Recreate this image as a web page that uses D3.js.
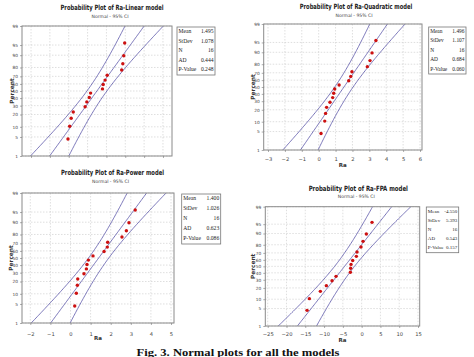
<!DOCTYPE html>
<html>
<head>
<meta charset="utf-8">
<script src="https://cdn.jsdelivr.net/npm/d3@7"></script>
<style>
  html, body { margin: 0; padding: 0; background: #fff; }
  svg { display: block; }
</style>
</head>
<body>
<svg id="chart" width="474" height="357"></svg>
<script>
// ---------------- DATA ----------------
const plotPercents = [4.3, 10.4, 16.5, 22.6, 28.7, 34.8, 40.9, 47.0, 53.0, 59.1, 65.2, 71.3, 77.4, 83.5, 89.6, 95.7];
const yTickValues = [1, 5, 10, 20, 30, 40, 50, 60, 70, 80, 90, 95, 99];

const linearRa    = [-0.04, 0.05, 0.13, 0.24, 0.87, 0.96, 1.09, 1.16, 1.79, 1.83, 1.93, 2.04, 2.81, 2.87, 2.92, 2.97];
const quadraticRa = [0.14, 0.36, 0.41, 0.47, 0.67, 0.83, 0.89, 0.95, 1.21, 1.78, 1.90, 1.97, 2.88, 3.04, 3.16, 3.39];
const powerRa     = [0.21, 0.29, 0.34, 0.36, 0.67, 0.79, 0.82, 0.89, 1.12, 1.67, 1.83, 1.85, 2.56, 2.78, 2.91, 3.22];
const fpaRa       = [-14.53, -13.91, -10.99, -9.39, -7.88, -6.82, -3.00, -2.92, -2.83, -2.38, -1.41, -1.23, -0.17, 0.37, 1.25, 2.76];

const statLabels     = ["Mean", "StDev", "N", "AD", "P-Value"];
const linearStats    = ["1.495", "1.078", "16", "0.444", "0.248"];
const quadraticStats = ["1.496", "1.107", "16", "0.684", "0.060"];
const powerStats     = ["1.400", "1.026", "16", "0.623", "0.086"];
const fpaStats       = ["-4.550", "5.393", "16", "0.543", "0.157"];

const linearXTicks    = [-2, -1, 0, 1, 2, 3, 4, 5];
const quadraticXTicks = [-3, -2, -1, 0, 1, 2, 3, 4, 5, 6];
const powerXTicks     = [-2, -1, 0, 1, 2, 3, 4, 5];
const fpaXTicks       = [-25, -20, -15, -10, -5, 0, 5, 10, 15];

const titles = ["Probability Plot of Ra-Linear model", "Probability Plot of Ra-Quadratic model",
                "Probability Plot of Ra-Power model", "Probability Plot of Ra-FPA model"];
const subtitle = "Normal - 95% CI";
const caption = "Fig. 3. Normal plots for all the models";

// ---------------- HELPERS ----------------
function qnorm(p) {
  const a = [-3.969683028665376e+01, 2.209460984245205e+02, -2.759285104469687e+02, 1.383577518672690e+02, -3.066479806614716e+01, 2.506628277459239e+00];
  const b = [-5.447609879822406e+01, 1.615858368580409e+02, -1.556989798598866e+02, 6.680131188771972e+01, -1.328068155288572e+01];
  const c = [-7.784894002430293e-03, -3.223964580411365e-01, -2.400758277161838e+00, -2.549732539343734e+00, 4.374664141464968e+00, 2.938163982698783e+00];
  const d = [7.784695709041462e-03, 3.224671290700398e-01, 2.445134137142996e+00, 3.754408661907416e+00];
  const pl = 0.02425, ph = 1 - pl;
  let q, r;
  if (p < pl) {
    q = Math.sqrt(-2 * Math.log(p));
    return (((((c[0]*q+c[1])*q+c[2])*q+c[3])*q+c[4])*q+c[5]) / ((((d[0]*q+d[1])*q+d[2])*q+d[3])*q+1);
  } else if (p <= ph) {
    q = p - 0.5; r = q * q;
    return (((((a[0]*r+a[1])*r+a[2])*r+a[3])*r+a[4])*r+a[5])*q / (((((b[0]*r+b[1])*r+b[2])*r+b[3])*r+b[4])*r+1);
  } else {
    q = Math.sqrt(-2 * Math.log(1 - p));
    return -(((((c[0]*q+c[1])*q+c[2])*q+c[3])*q+c[4])*q+c[5]) / ((((d[0]*q+d[1])*q+d[2])*q+d[3])*q+1);
  }
}

// ---------------- PANELS ----------------
const panels = [
  { title: titles[0], ra: linearRa, stats: linearStats, xTicks: linearXTicks, xLabels: false,
    box: [22, 172, 26, 156], xDom: [-2.48, 5.48], titleY: 10, subY: 17.5, titleW: 103, titleX: 112,
    legend: [177, 215, 27, 75], legendFont: 5.6, percentX: 12, tickY: 0, raY: 0 },
  { title: titles[1], ra: quadraticRa, stats: quadraticStats, xTicks: quadraticXTicks, xLabels: true,
    box: [263.7, 422, 24, 150], xDom: [-3.255, 6.118], titleY: 9, subY: 16.5, titleW: 112.5, titleX: 356,
    legend: [428.7, 466, 27, 74], legendFont: 5.4, percentX: 253, tickY: 157.5, raY: 166.5 },
  { title: titles[2], ra: powerRa, stats: powerStats, xTicks: powerXTicks, xLabels: true,
    box: [22, 174, 193, 323], xDom: [-2.413, 5.149], titleY: 175, subY: 183, titleW: 103, titleX: 112.5,
    legend: [181.7, 220.7, 194, 244], legendFont: 5.6, percentX: 11, tickY: 332.5, raY: 340 },
  { title: titles[3], ra: fpaRa, stats: fpaStats, xTicks: fpaXTicks, xLabels: true,
    box: [265.3, 419.7, 206.7, 326], xDom: [-25.64, 15.45], titleY: 191, subY: 197.5, titleW: 99.3, titleX: 358.3,
    legend: [426.3, 458.7, 207, 252.7], legendFont: 5.0, percentX: 253, tickY: 332.5, raY: 342 }
];

const svg = d3.select("#chart");
const gridColor = "#c9c9c9";
const frameColor = "#8a8a8a";
const bandColor = "#5b55a8";
const dotColor = "#cc1010";
const zLo = qnorm(0.01), zHi = qnorm(0.99);

panels.forEach((P, idx) => {
  const [x0, x1, y0, y1] = P.box;
  const g = svg.append("g");
  const x = d3.scaleLinear().domain(P.xDom).range([x0, x1]);
  const yz = d3.scaleLinear().domain([zLo, zHi]).range([y1, y0]);
  const y = pct => yz(qnorm(pct / 100));

  const clipId = "clip" + idx;
  svg.append("clipPath").attr("id", clipId)
    .append("rect").attr("x", x0).attr("y", y0).attr("width", x1 - x0).attr("height", y1 - y0);

  g.append("rect").attr("x", x0).attr("y", y0).attr("width", x1 - x0).attr("height", y1 - y0)
    .attr("fill", "#fff");

  // gridlines
  g.selectAll(".vg").data(P.xTicks).join("line")
    .attr("x1", d => x(d)).attr("x2", d => x(d)).attr("y1", y0).attr("y2", y1)
    .attr("stroke", gridColor).attr("stroke-width", 0.6).attr("stroke-dasharray", "1.5,1.5");
  g.selectAll(".hg").data(yTickValues).join("line")
    .attr("x1", x0).attr("x2", x1).attr("y1", d => y(d)).attr("y2", d => y(d))
    .attr("stroke", gridColor).attr("stroke-width", 0.6).attr("stroke-dasharray", "1.5,1.5");

  // fitted line and CI bands
  const mean = +P.stats[0], sd = +P.stats[1], n = +P.stats[2];
  const zs = d3.range(-3.4, 3.4001, 0.05);
  const line = d3.line().x(d => x(d[0])).y(d => yz(d[1]));
  const fit = zs.map(z => [mean + z * sd, z]);
  const se = z => 1.96 * sd * Math.sqrt(1 / n + z * z / (2 * n));
  const lo = zs.map(z => [mean + z * sd - se(z), z]);
  const hi = zs.map(z => [mean + z * sd + se(z), z]);
  const lg = g.append("g").attr("clip-path", `url(#${clipId})`);
  [lo, fit, hi].forEach(pts => {
    lg.append("path").attr("d", line(pts)).attr("fill", "none")
      .attr("stroke", bandColor).attr("stroke-width", 0.8);
  });

  // points
  lg.selectAll("circle").data(P.ra).join("circle")
    .attr("cx", d => x(d)).attr("cy", (d, i) => y(plotPercents[i]))
    .attr("r", 1.7).attr("fill", dotColor);

  // frame
  g.append("rect").attr("x", x0).attr("y", y0).attr("width", x1 - x0).attr("height", y1 - y0)
    .attr("fill", "none").attr("stroke", frameColor).attr("stroke-width", 1);

  // y axis
  const yAxis = d3.axisLeft(yz).tickValues(yTickValues.map(v => qnorm(v / 100)))
    .tickFormat((d, i) => yTickValues[i]).tickSize(2).tickPadding(2);
  const ya = g.append("g").attr("transform", `translate(${x0},0)`).call(yAxis);
  ya.select(".domain").remove();
  ya.selectAll("line").attr("stroke", "#777").attr("stroke-width", 0.6);
  ya.selectAll("text").attr("font-family", "DejaVu Sans, sans-serif").attr("font-size", 4.3).attr("fill", "#444");

  // x axis
  const xAxis = d3.axisBottom(x).tickValues(P.xTicks).tickSize(2).tickPadding(1.5)
    .tickFormat(P.xLabels ? d3.format("d") : () => "");
  const xa = g.append("g").attr("transform", `translate(0,${y1})`).call(xAxis);
  xa.select(".domain").remove();
  xa.selectAll("line").attr("stroke", "#777").attr("stroke-width", 0.6);
  xa.selectAll("text").attr("font-family", "DejaVu Sans, sans-serif").attr("font-size", 5.2).attr("fill", "#444")
    .attr("dy", null)
    .attr("y", P.tickY - y1 + 2).attr("dominant-baseline", "middle");
  if (!P.xLabels) xa.selectAll("text").remove();

  if (P.xLabels) {
    g.append("text").attr("x", (x0 + x1) / 2).attr("y", P.raY)
      .attr("text-anchor", "middle").attr("font-family", "DejaVu Sans, sans-serif")
      .attr("font-weight", "bold").attr("font-size", 5.5).attr("fill", "#333").text("Ra");
  }

  // Percent label
  const cy = (y0 + y1) / 2;
  g.append("text").attr("transform", `translate(${P.percentX},${cy}) rotate(-90)`)
    .attr("text-anchor", "middle").attr("dominant-baseline", "middle")
    .attr("font-family", "DejaVu Sans, sans-serif").attr("font-weight", "bold")
    .attr("font-size", 5.8).attr("fill", "#333").text("Percent");

  // title & subtitle
  g.append("text").attr("x", P.titleX).attr("y", P.titleY).attr("text-anchor", "middle")
    .attr("font-family", "DejaVu Sans, sans-serif").attr("font-weight", "bold")
    .attr("font-size", 7.2).attr("fill", "#222")
    .attr("textLength", P.titleW).attr("lengthAdjust", "spacingAndGlyphs").text(P.title);
  g.append("text").attr("x", P.titleX - 2).attr("y", P.subY).attr("text-anchor", "middle")
    .attr("font-family", "DejaVu Sans, sans-serif").attr("font-size", 4.6).attr("fill", "#444")
    .attr("textLength", 37).attr("lengthAdjust", "spacingAndGlyphs").text(subtitle);

  // legend
  const [lx0, lx1, ly0, ly1] = P.legend;
  g.append("rect").attr("x", lx0).attr("y", ly0).attr("width", lx1 - lx0).attr("height", ly1 - ly0)
    .attr("fill", "#fff").attr("stroke", "#777").attr("stroke-width", 0.8);
  const rowH = (ly1 - ly0) / 5;
  const lgRows = g.selectAll(".lrow").data(statLabels).join("g");
  lgRows.append("text").attr("x", lx0 + 1.5).attr("y", (d, i) => ly0 + rowH * (i + 0.5))
    .attr("dominant-baseline", "middle").attr("font-family", "Liberation Serif, serif")
    .attr("font-size", P.legendFont).attr("fill", "#222").text(d => d);
  lgRows.append("text").attr("x", lx1 - 1.5).attr("y", (d, i) => ly0 + rowH * (i + 0.5))
    .attr("dominant-baseline", "middle").attr("text-anchor", "end").attr("font-family", "Liberation Serif, serif")
    .attr("font-size", P.legendFont).attr("fill", "#222").text((d, i) => P.stats[i]);
});

// caption
svg.append("text").attr("x", 238).attr("y", 355.5).attr("text-anchor", "middle")
  .attr("font-family", "Liberation Serif, serif").attr("font-weight", "bold")
  .attr("font-size", 10).attr("fill", "#111")
  .attr("textLength", 203).attr("lengthAdjust", "spacingAndGlyphs").text(caption);
</script>
</body>
</html>
